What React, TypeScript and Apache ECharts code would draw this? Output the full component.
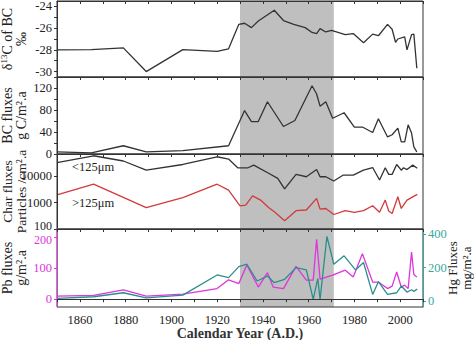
import React, { useEffect, useRef } from "react";
import * as echarts from "echarts";

const xMin = 1850;
const xMax = 2010;
const shadeStart = 1930;
const shadeEnd = 1971;

const d13cYears = [1850, 1865, 1879, 1889, 1905, 1920, 1925, 1929.5, 1932, 1935, 1938, 1945, 1949, 1953.5, 1958.5, 1961.5, 1963.5, 1965, 1967.5, 1970, 1976, 1979.5, 1984, 1988, 1990.5, 1994.5, 1996.5, 1998, 1999, 2002, 2003, 2005, 2006, 2007.3];
const d13cValues = [-28.0, -27.97, -27.82, -30.0, -27.98, -28.14, -27.9, -25.65, -25.55, -25.95, -25.35, -24.35, -25.3, -25.65, -25.95, -26.4, -26.5, -26.05, -26.35, -26.2, -26.6, -26.5, -27.35, -26.55, -26.7, -25.65, -26.1, -27.3, -27.0, -26.8, -28.0, -26.6, -26.55, -29.7];

const bcYears = [1850, 1865, 1879, 1889, 1905, 1925, 1932, 1935, 1938, 1942, 1949, 1954, 1961.5, 1963.5, 1965, 1967.5, 1970.5, 1975.5, 1980, 1983.5, 1988, 1990.5, 1994.5, 1996.5, 1999, 2000.5, 2002, 2003.5, 2005, 2006, 2007.3];
const bcValues = [4, 2, 15, 4, 6, 15, 79, 59, 59, 95, 50, 61, 124, 109, 87, 95, 65, 75, 49, 49, 39, 64, 31, 35, 47, 22, 22, 53, 38, 13, 4];

const charSmallYears = [1850, 1866, 1879, 1889, 1905, 1920, 1925, 1929, 1933.5, 1936, 1942.5, 1946.5, 1949.5, 1954.5, 1959, 1963.5, 1965, 1967.5, 1971, 1975, 1979.5, 1984, 1988, 1991, 1993.5, 1995, 1996.5, 1998.5, 2000.5, 2001.5, 2003, 2005.5, 2007.5];
const charSmallValues = [33000, 60000, 38000, 17000, 28000, 55000, 45000, 21000, 21000, 26500, 13000, 8300, 3300, 11800, 9600, 18000, 9600, 9600, 6600, 11000, 11000, 17000, 21500, 7200, 21000, 11800, 11800, 28000, 17000, 21000, 18000, 26500, 20000];

const charLargeYears = [1850, 1866, 1889, 1905, 1920, 1925, 1930, 1932.5, 1935.5, 1939, 1942.5, 1945, 1949.5, 1954.5, 1959, 1963.5, 1965, 1967.5, 1971, 1976, 1980, 1984, 1988, 1991, 1993.5, 1995, 1996.5, 1999, 2000.5, 2003, 2007.5];
const charLargeValues = [1950, 5000, 650, 1550, 5000, 3000, 760, 810, 1800, 1250, 650, 450, 205, 495, 525, 1450, 570, 600, 355, 495, 430, 495, 760, 430, 1250, 480, 390, 1670, 600, 1250, 2050];

const pbYears = [1850, 1866, 1879, 1889, 1905, 1920, 1925, 1929.5, 1933, 1938, 1942, 1944.5, 1949, 1954.5, 1959, 1962, 1963.5, 1965, 1970.5, 1976, 1979.5, 1983.5, 1988, 1990.5, 1994.5, 1996.5, 1998.5, 2000.5, 2002, 2003.5, 2005, 2006, 2007.3];
const pbValues = [10, 12, 30, 10, 16, 34, 62, 50, 110, 39, 85, 39, 34, 105, 61, 61, 192, 64, 77, 93, 71, 146, 55, 55, 34, 42, 87, 39, 45, 34, 151, 79, 71];

const hgYears = [1850, 1866, 1879, 1889, 1905, 1920, 1925, 1929.5, 1933, 1937.5, 1942, 1945, 1949.5, 1954.5, 1959, 1962, 1964, 1965, 1968, 1971, 1975.5, 1980.5, 1984, 1988, 1990.5, 1994.5, 1998.5, 2000.5, 2003, 2005, 2006, 2007.5];
const hgValues = [16, 26, 50, 20, 36, 156, 140, 206, 220, 120, 150, 110, 130, 200, 186, 10, 134, 10, 386, 220, 270, 186, 230, 40, 116, 40, 50, 90, 54, 68, 58, 72];

const d13cTicks = [-30, -29, -28, -27, -26, -25, -24];
const d13cLabels = [-30, -28, -26, -24];
const pbLabels = [0, 100, 200];
const hgLabels = [0, 200, 400];

const pair = (xs: number[], ys: number[]) => xs.map((x, i) => [x, ys[i]]);

const FONT = "'Liberation Serif', 'Times New Roman', serif";
const INK = "#222";
const LINE = "#333";
const RED = "#d23a3c";
const MAGENTA = "#de35dc";
const TEAL = "#2a8f8c";
const TEAL_AXIS = "#3aa8a0";
const SHADE = "#bfbfbf";

export default function App() {
  const ref = useRef<HTMLDivElement>(null);
  useEffect(() => {
    const chart = echarts.init(ref.current as HTMLDivElement, null, { renderer: "svg" });
    const L = 57;
    const W = 366;
    const gridDefs = [
      { top: 1, height: 76 },
      { top: 77, height: 77 },
      { top: 154, height: 75 },
      { top: 229, height: 78 },
    ];
    const grid = gridDefs.map((g) => ({
      left: L,
      width: W,
      top: g.top,
      height: g.height,
      show: true,
      containLabel: false,
      outerBoundsMode: "none",
      borderColor: LINE,
      borderWidth: 1,
      backgroundColor: "transparent",
      z: 10,
    }));

    const xAxis: any[] = gridDefs.map((_, i) => ({
      type: "value",
      gridIndex: i,
      min: xMin,
      max: xMax,
      interval: 10,
      z: 11,
      axisLine: { show: true, lineStyle: { color: LINE, width: 1 } },
      axisTick: { show: true, inside: false, length: 3, lineStyle: { color: LINE } },
      splitLine: { show: false },
      axisLabel: {
        show: i === 3,
        fontFamily: FONT,
        fontSize: 12.5,
        color: INK,
        margin: 6,
        formatter: (v: number) => (v % 20 === 0 ? String(v) : ""),
      },
      name: i === 3 ? "Calendar Year (A.D.)" : "",
      nameLocation: "middle",
      nameGap: 19,
      nameMoveOverlap: false,
      nameTextStyle: { fontFamily: FONT, fontSize: 14, fontWeight: "bold", color: "#333" },
    }));
    xAxis.push({
      type: "value",
      gridIndex: 0,
      position: "top",
      min: xMin,
      max: xMax,
      interval: 10,
      z: 11,
      axisLine: { show: true, lineStyle: { color: LINE } },
      axisTick: { show: true, inside: true, length: 3, lineStyle: { color: LINE } },
      axisLabel: { show: false },
      splitLine: { show: false },
    });

    const nameStyle = { fontFamily: FONT, fontSize: 14, color: INK, lineHeight: 14 };
    const labelBase = { fontFamily: FONT, fontSize: 12.5, color: INK, margin: 5 };
    const tickBase = { show: true, inside: false, length: 3, lineStyle: { color: LINE } };
    const axisLineBase = { show: true, lineStyle: { color: LINE } };
    const nameBase = { nameLocation: "middle", nameRotate: 90, nameGap: 29, nameMoveOverlap: false };

    const yAxis: any[] = [
      {
        type: "value",
        gridIndex: 0,
        min: -30.5,
        max: -23.5,
        z: 11,
        axisLine: axisLineBase,
        axisTick: { ...tickBase, customValues: d13cTicks },
        axisLabel: { ...labelBase, customValues: d13cLabels },
        splitLine: { show: false },
        name: "{t|δ}{s|13}{t|C of BC}\n{t|‰}",
        ...nameBase,
        nameTextStyle: {
          ...nameStyle,
          rich: {
            t: { fontFamily: FONT, fontSize: 14, color: INK, lineHeight: 14 },
            s: { fontFamily: FONT, fontSize: 9, color: INK, padding: [0, 0, 6, 0] },
          },
        },
      },
      {
        type: "value",
        gridIndex: 1,
        min: 0,
        max: 140,
        interval: 20,
        z: 11,
        axisLine: axisLineBase,
        axisTick: tickBase,
        axisLabel: { ...labelBase, formatter: (v: number) => (v % 40 === 0 ? String(v) : "") },
        splitLine: { show: false },
        name: "BC fluxes\ng C/m².a",
        ...nameBase,
        nameTextStyle: nameStyle,
      },
      {
        type: "log",
        logBase: 10,
        gridIndex: 2,
        min: 100,
        max: 70000,
        z: 11,
        axisLine: axisLineBase,
        axisTick: tickBase,
        axisLabel: {
          ...labelBase,
          showMaxLabel: false,
          formatter: (v: number) => {
            const r = Math.round(v);
            if (r > 20000) return "";
            return r === 100 ? "{lo|100}" : String(r);
          },
          rich: {
            lo: { fontFamily: FONT, fontSize: 12, color: INK, padding: [0, 0, 7, 0] },
          },
        },
        splitLine: { show: false },
        minorTick: { show: false },
        name: "Char fluxes\nParticles /cm².a",
        ...nameBase,
        nameGap: 29,
        nameTextStyle: { ...nameStyle, fontSize: 13.5, lineHeight: 13.5 },
      },
      {
        type: "value",
        gridIndex: 3,
        min: -25,
        max: 225,
        z: 11,
        axisLine: { show: true, lineStyle: { color: MAGENTA } },
        axisTick: { ...tickBase, customValues: pbLabels, lineStyle: { color: MAGENTA } },
        axisLabel: {
          ...labelBase,
          color: MAGENTA,
          customValues: pbLabels,
          formatter: (v: number) => (v === 200 ? "{hi|200}" : String(v)),
          rich: {
            hi: { fontFamily: FONT, fontSize: 12, color: MAGENTA, padding: [7, 0, 0, 0] },
          },
        },
        splitLine: { show: false },
        name: "Pb fluxes\ng/m².a",
        ...nameBase,
        nameTextStyle: nameStyle,
      },
      {
        type: "value",
        gridIndex: 3,
        position: "right",
        min: -35,
        max: 430,
        z: 11,
        axisLine: { show: true, lineStyle: { color: TEAL_AXIS } },
        axisTick: { ...tickBase, customValues: hgLabels, lineStyle: { color: TEAL_AXIS } },
        axisLabel: { ...labelBase, color: TEAL_AXIS, customValues: hgLabels },
        splitLine: { show: false },
        name: "Hg Fluxes\nmg/m².a",
        ...nameBase,
        nameGap: 22,
        nameTextStyle: { ...nameStyle, fontSize: 13, lineHeight: 14 },
      },
    ];

    const shade = (gi: number, yi: number) => ({
      type: "line",
      xAxisIndex: gi,
      yAxisIndex: yi,
      data: [],
      z: 1,
      silent: true,
      markArea: {
        silent: true,
        itemStyle: { color: SHADE, opacity: 1 },
        data: [[{ xAxis: shadeStart }, { xAxis: shadeEnd }]],
      },
    });

    const line = (name: string, gi: number, yi: number, data: number[][], color: string) => ({
      name,
      type: "line",
      xAxisIndex: gi,
      yAxisIndex: yi,
      data,
      z: 3,
      showSymbol: false,
      symbol: "none",
      lineStyle: { color, width: 1.3 },
      itemStyle: { color },
    });

    chart.setOption({
      animation: false,
      grid,
      xAxis,
      yAxis,
      graphic: [
        { type: "text", left: 72, top: 160, z: 20, style: { text: "<125μm", fontFamily: FONT, fontSize: 12.5, fill: INK } },
        { type: "text", left: 72, top: 196, z: 20, style: { text: ">125μm", fontFamily: FONT, fontSize: 12.5, fill: INK } },
      ],
      series: [
        shade(0, 0),
        shade(1, 1),
        shade(2, 2),
        shade(3, 3),
        line("δ13C of BC", 0, 0, pair(d13cYears, d13cValues), LINE),
        line("BC fluxes", 1, 1, pair(bcYears, bcValues), LINE),
        line("<125μm", 2, 2, pair(charSmallYears, charSmallValues), LINE),
        line(">125μm", 2, 2, pair(charLargeYears, charLargeValues), RED),
        line("Pb", 3, 3, pair(pbYears, pbValues), MAGENTA),
        line("Hg", 3, 4, pair(hgYears, hgValues), TEAL),
      ],
    });
    return () => chart.dispose();
  }, []);
  return (
    <div
      ref={ref}
      style={{ position: "fixed", left: 0, top: 0, width: 474, height: 340, background: "#fff" }}
    />
  );
}
